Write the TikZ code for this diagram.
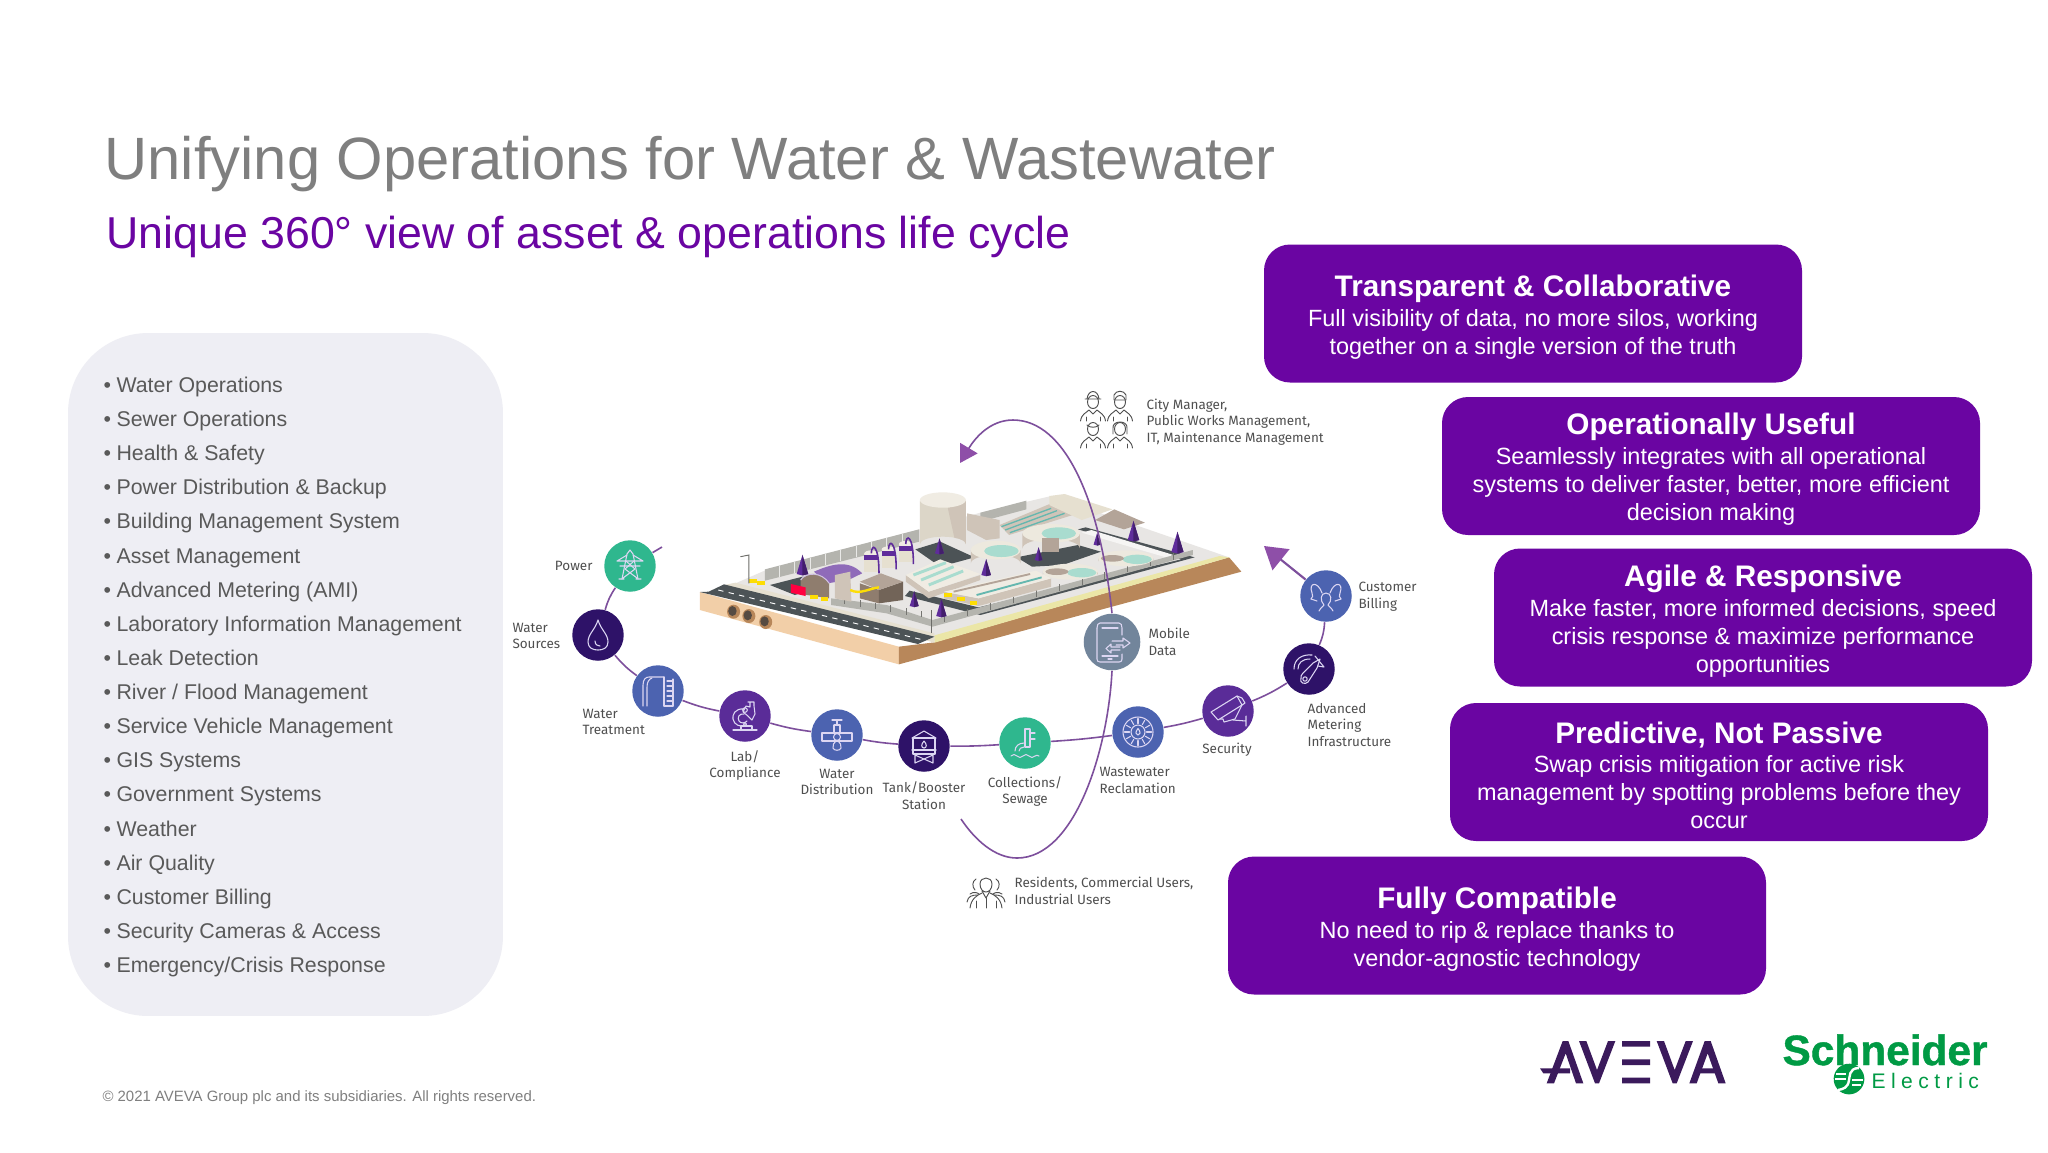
\documentclass[tikz,border=0pt]{standalone}
\usepackage{fontspec}
\setmainfont{Liberation Sans}
\newfontfamily\lblfont{Fira Sans}
\newfontfamily\elecfont[LetterSpace=26]{Liberation Sans}
\newfontfamily\sefont[FakeBold=1]{Liberation Sans Bold}
\usetikzlibrary{arrows.meta,shapes.geometric}
\definecolor{titlegray}{HTML}{7F7F7F}
\definecolor{brandpurple}{HTML}{6A05A2}
\definecolor{panelgray}{HTML}{EEEEF4}
\definecolor{listgray}{HTML}{595959}
\definecolor{lblgray}{HTML}{4F4F4F}
\definecolor{hubgreen}{HTML}{2FB78E}
\definecolor{hubdark}{HTML}{2E1268}
\definecolor{hubblue}{HTML}{4C63B0}
\definecolor{hubpurple}{HTML}{5A2C98}
\definecolor{hubslate}{HTML}{72859B}
\definecolor{chain}{HTML}{7D4F9C}
\definecolor{tipcol}{HTML}{8E4FA8}
\definecolor{iconpale}{HTML}{DCD6F2}
\definecolor{avevacol}{HTML}{3B1A5C}
\definecolor{segreen}{HTML}{009A44}
\definecolor{sand}{HTML}{F2CFA8}
\definecolor{soil}{HTML}{B8875A}
\definecolor{yard}{HTML}{E8E6E4}
\definecolor{asphalt}{HTML}{4C5356}
\definecolor{cream}{HTML}{E6E0D0}
\definecolor{stone}{HTML}{CFC4B8}
\definecolor{stonedk}{HTML}{B3A498}
\definecolor{pool}{HTML}{A9DCCF}
\definecolor{fence}{HTML}{B4B4AE}
\definecolor{brownb}{HTML}{8F7D6E}
\definecolor{cone}{HTML}{5F2C9B}
\tikzset{
  hub/.style={circle,fill=#1,minimum size=19.3pt,inner sep=0pt},
  lbl/.style={font=\lblfont\fontsize{5.05pt}{6.25pt}\selectfont,text=lblgray,inner sep=0pt,yshift=-0.15pt},
  lblL/.style={lbl,align=left,anchor=west},
  lblC/.style={lbl,align=center,anchor=center},
  card/.style={rounded corners=9.75pt,fill=brandpurple,minimum width=201.75pt,minimum height=51.75pt,inner sep=0pt,text=white,align=center,font=\fontsize{8.8pt}{10.5pt}\selectfont},
  link/.style={draw=chain,line width=0.6pt},
  iconl/.style={color=iconpale,line width=0.4pt,line cap=round,line join=round},
  outl/.style={color=lblgray,line width=0.35pt,line cap=round,line join=round},
  listitem/.style={anchor=base west,inner sep=0pt,text=listgray,font=\fontsize{8pt}{10pt}\selectfont},
}
\newcommand{\cardhead}[1]{{\bfseries\fontsize{11.15pt}{12pt}\selectfont\rule{0pt}{10.6pt}#1}\\[0.6pt]}
\newcommand{\coneat}[3]{\fill[cone] (#1-#3*0.42,#2) -- (#1,#2-#3*1.6) -- (#1+#3*0.42,#2) -- (#1,#2+#3*0.12) -- cycle;\fill[cone!70!black] (#1,#2-#3*1.6) -- (#1+#3*0.42,#2) -- (#1,#2+#3*0.12) -- cycle;}
\newcommand{\workerat}[2]{\begin{scope}[shift={(#1,#2)},outl]
  \draw (0,-6) ellipse (5.5 and 6.5);
  \draw (-12.5,13) .. controls (-11.5,6) and (-7,5) .. (-4,2) -- (0,6) -- (4,2) .. controls (7,5) and (11.5,6) .. (12.5,13);
  \draw (-7,13) -- (-7,9) (7,13) -- (7,9);
\end{scope}}
\begin{document}
\begin{tikzpicture}[x=0.375pt,y=-0.375pt]
\useasboundingbox (0,0) rectangle (2048,1152);
\fill[white] (0,0) rectangle (2048,1152);

% headings
\node[anchor=base west,inner sep=0pt,text=titlegray,font=\fontsize{22.4pt}{26pt}\selectfont] (title) at (104,179.5) {Unifying Operations for Water \& Wastewater};
\node[anchor=base west,inner sep=0pt,text=brandpurple,font=\fontsize{16.75pt}{20pt}\selectfont] (subtitle) at (106,248) {Unique 360° view of asset \& operations life cycle};

% list panel
\node[rounded corners=30pt,fill=panelgray,minimum width=163.1pt,minimum height=256.1pt,inner sep=0pt] (panel) at (285.5,674.5) {};
\foreach \t [count=\i from 0] in {Water Operations,Sewer Operations,Health \& Safety,Power Distribution \& Backup,Building Management System,Asset Management,Advanced Metering (AMI),Laboratory Information Management,Leak Detection,River / Flood Management,Service Vehicle Management,GIS Systems,Government Systems,Weather,Air Quality,Customer Billing,Security Cameras \& Access,Emergency/Crisis Response}{
  \node[listitem] (item\i) at (116,392.5+\i*34.12) {\t};
  \node[listitem] (bul\i) at (103,392.5+\i*34.12) {•};
}

% plant illustration (coordinates as in a stretched view of the region)
\begin{scope}[shift={(680,470)},x=0.1435pt,y=-0.125pt]
  \fill[yard] (145,340) -- (225,300) -- (620,180) -- (785,128) -- (970,78) -- (1435,262) -- (665,512) -- cycle;
  % fence rear
  \fill[fence] (222,298) -- (625,178) -- (625,215) -- (222,332) -- cycle;
  \fill[fence] (785,128) -- (905,92) -- (905,118) -- (785,155) -- cycle;
  \foreach \a in {260,300,340,380,420,460,500,540,580}{\draw[white!70!fence,line width=0.3pt] (\a,{298-(\a-222)*0.298}) -- ++(0,34);}
  % sides
  \fill[sand] (52,366) -- (572,530) -- (572,583) -- (52,420) -- cycle;
  \fill[soil] (572,530) -- (665,517) -- (1435,262) -- (1467,305) -- (572,583) -- cycle;
  \fill[cream!80!yellow] (665,496) -- (1410,258) -- (1435,262) -- (665,518) -- cycle;
  % road
  \fill[cream] (115,345) -- (145,338) -- (665,490) -- (665,518) -- cycle;
  \fill[asphalt] (52,366) -- (75,365) -- (115,343) -- (665,500) -- (622,522) -- cycle;
  \draw[white,line width=0.35pt,dash pattern=on 2pt off 2pt] (100,360) -- (640,511);
  % pipes
  \foreach \a/\b in {140/425,180/438,224/456}{\fill[soil] (\a,\b) ellipse (17 and 21);\fill[brownb!60!black] (\a-3,\b-2) ellipse (11 and 15);}
  % yard roads and dark ground
  \fill[asphalt] (615,238) -- (680,215) -- (770,262) -- (680,290) -- cycle;
  \fill[asphalt] (880,262) -- (1040,225) -- (1100,245) -- (1000,285) -- (920,290) -- cycle;
  \fill[asphalt] (1040,178) -- (1060,172) -- (1345,262) -- (785,435) -- (588,378) -- (600,362) -- (780,412) -- (1310,268) -- cycle;
  \fill[white!60!yard] (1050,188) -- (1075,180) -- (1290,255) -- (1270,262) -- cycle;
  % front fence
  \fill[fence] (395,385) -- (540,405) -- (660,450) -- (1340,240) -- (1340,255) -- (660,470) -- (540,430) -- (395,405) -- cycle;
  \foreach \a in {430,470,510,550,590,630,690,750,810,870,930,990,1050,1110,1170,1230,1290}{\draw[fence!65!black,line width=0.2pt] (\a,{\a<660?(395+(\a-395)*0.2):(465-(\a-660)*0.31)}) -- ++(0,-20);}
  % parking, sheds
  \fill[asphalt] (235,345) -- (320,320) -- (390,345) -- (300,375) -- cycle;
  % rear pool
  \fill[stone] (835,165) -- (970,100) -- (1040,130) -- (860,195) -- cycle;
  \draw[pool!60!teal,line width=0.5pt] (840,170) -- (970,115) (850,180) -- (985,122) (862,188) -- (1005,130);
  % rear block
  \fill[cream] (965,78) -- (1005,72) -- (1130,118) -- (1050,150) -- (965,105) -- cycle;
  \fill[stonedk] (1085,150) -- (1135,118) -- (1215,158) -- (1160,178) -- cycle;
  % big tank
  \fill[stone] (750,130) -- (835,150) -- (835,205) -- (800,210) -- (750,180) -- cycle;
  \fill[cream!90!gray] (627,92) -- (627,222) arc[start angle=180,end angle=360,x radius=60,y radius=22] -- (747,92) -- cycle;
  \fill[stone] (700,115) -- (747,92) -- (747,222) arc[start angle=360,end angle=300,x radius=60,y radius=22] -- cycle;
  \fill[cream!60!white] (687,90) ellipse (60 and 23);
  % towers
  \foreach \a/\b in {500/250,545/238,590/222}{
    \fill[cream] (\a-18,\b) rectangle (\a+18,\b+55);
    \fill[cream!60!white] (\a,\b) ellipse (18 and 9);
    \fill[cone] (\a-18,\b+5) rectangle (\a+18,\b+20);
    \draw[cone,line width=0.6pt] (\a,\b) .. controls (\a,\b-30) and (\a+20,\b-30) .. (\a+20,\b+60);
  }
  % front pool
  \fill[stone] (590,315) -- (650,365) -- (785,315) -- (785,330) -- (650,385) -- (590,335) -- cycle;
  \fill[cream!60!white] (590,315) -- (680,268) -- (785,312) -- (650,365) -- cycle;
  \draw[pool,line width=1.1pt] (610,315) -- (695,278) (630,330) -- (715,290) (650,345) -- (740,303);
  % right pool
  \fill[stone] (690,365) -- (780,385) -- (970,325) -- (970,350) -- (780,408) -- (690,385) -- cycle;
  \fill[cream!60!white] (690,365) -- (930,302) -- (970,325) -- (780,385) -- cycle;
  \draw[pool!60!teal,line width=0.7pt] (775,375) -- (945,322);
  \draw[stonedk,line width=0.7pt] (715,365) -- (915,312);
  % clarifiers
  \fill[stone] (760,240) -- (760,280) arc[start angle=180,end angle=360,x radius=65,y radius=25] -- (890,240) -- cycle;
  \fill[cream!70!white] (825,240) ellipse (65 and 28);
  \fill[pool] (840,243) ellipse (45 and 18);
  \fill[stone] (895,190) -- (895,235) arc[start angle=180,end angle=360,x radius=75,y radius=28] -- (1045,190) -- cycle;
  \fill[cream!70!white] (970,190) ellipse (75 and 28);
  \fill[pool] (990,190) ellipse (45 and 18);
  \fill[stonedk] (945,205) rectangle (990,245);
  \fill[stone] (948,305) -- (948,315) arc[start angle=180,end angle=360,x radius=72,y radius=24] -- (1092,305) -- cycle;
  \fill[cream!70!white] (1020,305) ellipse (72 and 24);
  \fill[pool] (1050,308) ellipse (38 and 14);
  \fill[stone] (1093,265) -- (1093,275) arc[start angle=180,end angle=360,x radius=72,y radius=24] -- (1237,265) -- cycle;
  \fill[cream!70!white] (1165,265) ellipse (72 and 24);
  \fill[pool] (1195,268) ellipse (38 and 14);
  \fill[stonedk] (985,305) ellipse (30 and 10);
  \fill[stonedk] (1130,265) ellipse (30 and 10);
  % arch building
  \fill[cone!70!white] (350,305) .. controls (390,285) and (440,265) .. (476,310) -- (440,330) -- (385,340) -- cycle;
  \fill[brownb] (315,372) -- (315,330) .. controls (330,305) and (370,305) .. (390,340) -- (390,385) -- cycle;
  \draw[cone!30!white,line width=0.4pt] (315,330) .. controls (330,305) and (370,305) .. (390,340);
  \fill[stone] (405,315) -- (445,305) -- (448,395) -- (405,385) -- cycle;
  % brown building
  \fill[brownb] (470,340) -- (520,360) -- (520,400) -- (470,385) -- cycle;
  \fill[brownb!80!black] (520,360) -- (583,335) -- (583,390) -- (520,400) -- cycle;
  \fill[stonedk] (470,335) -- (525,310) -- (583,335) -- (520,360) -- cycle;
  \draw[yellow!80!orange,line width=0.9pt] (445,360) .. controls (470,375) and (495,355) .. (520,352);
  % sign
  \fill[red!75!magenta] (290,342) -- (328,352) -- (328,378) -- (290,368) -- cycle;
  % yellow
  \foreach \a/\b in {190/333,212/340,350/380,378/388,700/375,735/388,767/398}{\fill[yellow!80!orange] (\a-10,\b-6) rectangle (\a+10,\b+6);}
  % poles
  \draw[fence!60!black,line width=0.35pt] (180,340) -- (180,255) -- (158,260);
  \draw[fence!60!black,line width=0.35pt] (658,490) -- (658,420);
  % cones
  \coneat{320}{312}{36}
  \coneat{678}{250}{28}
  \coneat{800}{315}{30}
  \coneat{612}{408}{28}
  \coneat{683}{438}{32}
  \coneat{937}{270}{24}
  \coneat{1090}{224}{22}
  \coneat{1185}{210}{36}
  \coneat{1300}{246}{38}
\end{scope}

% hubs
\node[hub=hubgreen] (power) at (630,566) {};
\node[hub=hubdark] (sources) at (598,635) {};
\node[hub=hubblue] (treat) at (658,691) {};
\node[hub=hubpurple] (lab) at (745,716) {};
\node[hub=hubblue] (dist) at (837,735) {};
\node[hub=hubdark] (tank) at (924,746) {};
\node[hub=hubgreen] (coll) at (1025,743) {};
\node[hub=hubblue] (reclaim) at (1138,732) {};
\node[hub=hubpurple] (secur) at (1228,711) {};
\node[hub=hubdark] (meter) at (1309,669) {};
\node[hub=hubblue] (billing) at (1326,596) {};
\node[hub=hubslate,minimum size=21.2pt] (mobile) at (1112,642) {};

% free ends
\coordinate (stub) at (662,547);
\coordinate (tipB) at (1264,546);
\coordinate (arcTop) at (1013,420);
\coordinate (tipA) at (960,463);
\coordinate (arcLow) at (1017,858);
\coordinate (arcEnd) at (961,819);

% connectors
\draw[link] (power) -- (stub);
\draw[link] (power) to[bend right=9] (sources);
\draw[link] (sources) to[bend right=7] (treat);
\draw[link] (treat) to[bend right=5] (lab);
\draw[link] (lab) to[bend right=4] (dist);
\draw[link] (dist) to[bend right=3] (tank);
\draw[link] (tank) to[bend right=2] (coll);
\draw[link] (coll) to[bend right=2] (reclaim);
\draw[link] (reclaim) to[bend right=3] (secur);
\draw[link] (secur) to[bend right=5] (meter);
\draw[link] (meter) to[bend right=10] (billing);
\draw[link,line width=0.8pt,-{Triangle[length=8.2pt,width=10pt,color=tipcol]}] (billing) -- (tipB);
\draw[link,-{Triangle[length=6.5pt,width=7.5pt,color=tipcol]}] (mobile.north) .. controls (1100,500) and (1065,420) .. (arcTop) .. controls (990,420) and (975,438) .. (tipA);
\draw[link] (mobile.south) .. controls (1108,750) and (1075,858) .. (arcLow) .. controls (995,858) and (975,840) .. (arcEnd);

% icons
\begin{scope}[shift={(power.center)},iconl]
  \draw (-3,-12) -- (-8,13) (3,-12) -- (8,13) (-3,-12) -- (0,-16) -- (3,-12);
  \draw (-13,-5) -- (-3,-11) (13,-5) -- (3,-11) (-13,-5) -- (13,-5) (-10,0) -- (10,0);
  \draw (-4,-5) -- (5,3) -- (-7,12) (4,-5) -- (-5,3) -- (7,12) (-11,13) -- (-6,13) (6,13) -- (11,13);
\end{scope}
\begin{scope}[shift={(sources.center)},iconl]
  \draw (0,-15) .. controls (-3,-5) and (-10,-1) .. (-10,7) .. controls (-10,13) and (-5,15) .. (0,15) .. controls (5,15) and (10,13) .. (10,7) .. controls (10,-1) and (3,-5) .. (0,-15) -- cycle;
  \draw (-3,6) .. controls (-3,10) and (0,11) .. (2,11);
\end{scope}
\begin{scope}[shift={(treat.center)},iconl]
  \draw (-15,15) -- (-15,-6) .. controls (-15,-12) and (-12,-14) .. (-9,-14) -- (6,-14);
  \draw (-11,15) -- (-11,-4) .. controls (-11,-9) and (-9,-12) .. (-6,-13);
  \draw (6,-14) -- (6,15) (15,-12) -- (15,15);
  \foreach \q in {-10,-5,0,5,10}{\draw (9,\q) -- (15,\q);}
  \draw (6,15) -- (15,15);
\end{scope}
\begin{scope}[shift={(lab.center)},iconl]
  \draw (-12,14) -- (12,14) (-4,14) -- (-4,10) -- (7,10) -- (7,14);
  \draw (-1,-7) .. controls (-10,-8) and (-13,-1) .. (-12,3) .. controls (-11,9) and (-5,11) .. (1,10);
  \draw (-1,-2) .. controls (-6,-3) and (-8,2) .. (-6,5) .. controls (-4,8) and (0,7) .. (2,5);
  \draw (3,-14) -- (9,-14) -- (9,-10) -- (10,-2) -- (7,4) -- (3,0) -- (-2,-4) -- (1,-10) -- (5,-9) -- (5,-14);
  \draw (0,-6) circle (2.3) (0,8) circle (1.5);
\end{scope}
\begin{scope}[shift={(dist.center)},iconl]
  \draw (-15,-2) rectangle (15,6);
  \draw (-5,-15) -- (5,-15) (0,-15) -- (0,-10) (-3,-10) -- (3,-10) -- (3,-2) (-3,-10) -- (-3,-2);
  \draw (0,2) circle (3.5);
  \draw (0,5) .. controls (-3,8) and (-5,10) .. (-4,13) .. controls (-3,16) and (3,16) .. (4,13) .. controls (5,10) and (3,8) .. (0,5);
\end{scope}
\begin{scope}[shift={(tank.center)},iconl]
  \draw (-12,-8) -- (0,-15) -- (12,-8) -- cycle;
  \draw (-11,-8) rectangle (11,8) (-12,4) -- (12,4);
  \draw (0,-5) .. controls (-3,-2) and (-3,2) .. (0,2) .. controls (3,2) and (3,-2) .. (0,-5);
  \draw (-9,8) -- (-9,17) (9,8) -- (9,17) (-9,9) -- (9,17) (9,9) -- (-9,17);
\end{scope}
\begin{scope}[shift={(coll.center)},iconl]
  \draw (0,4) -- (0,-14) -- (5,-14) -- (5,4) -- cycle (5,-10) -- (10,-10) (5,-4) -- (10,-4);
  \draw (-1,0) .. controls (-6,0) and (-10,3) .. (-10,8) (-1,4) .. controls (-4,4) and (-6,6) .. (-6,8);
  \draw (-14,13) .. controls (-12,11) and (-10,11) .. (-8,13) .. controls (-6,15) and (-4,15) .. (-2,13) .. controls (0,11) and (2,11) .. (4,13) .. controls (6,15) and (8,15) .. (10,13) .. controls (11,12) and (13,12) .. (14,13);
\end{scope}
\begin{scope}[shift={(reclaim.center)},iconl]
  \draw (0,0) circle (15) (0,0) circle (7);
  \foreach \q in {0,30,...,330}{\draw (\q:8.5) -- (\q:13.5);}
  \draw (0,-3.5) .. controls (-3,0) and (-2.5,3) .. (0,3) .. controls (2.5,3) and (3,0) .. (0,-3.5);
\end{scope}
\begin{scope}[shift={(secur.center)},iconl]
  \draw (-17,1) -- (9,-15) -- (14,-6) -- (-10,9) -- cycle;
  \draw (-8,8) -- (-5,8) -- (-4,11) -- (7,8) -- (14,-6);
  \draw (5,9) -- (18,10) (18,5) -- (18,15);
  \draw (9,-15) -- (14,-13) -- (17,-8) -- (14,-6);
\end{scope}
\begin{scope}[shift={(meter.center)},iconl]
  \draw (-15,0) .. controls (-15,-10) and (-7,-15) .. (3,-14);
  \draw (-11,0) .. controls (-11,-6) and (-7,-10) .. (1,-10);
  \draw (6,-13) -- (15,-2) -- (9,-3) ;
  \draw (-8,9) .. controls (-10,14) and (-4,16) .. (-1,13) -- (8,-1) -- (11,-10) -- (4,-6) -- (-6,4) .. controls (-8,6) and (-8,7) .. (-8,9);
  \draw (-4,10) circle (2.2);
\end{scope}
\begin{scope}[shift={(billing.center)},iconl]
  \draw (-7,15) .. controls (-5,11) and (-3,11) .. (-2,9) .. controls (-6,5) and (-6,-3) .. (0,-3) .. controls (6,-3) and (6,5) .. (2,9) .. controls (3,11) and (5,11) .. (7,15);
  \draw (-4,-3) .. controls (-8,-15) and (-18,-14) .. (-14,-3) .. controls (-13,0) and (-13,1) .. (-15,3);
  \draw (4,-3) .. controls (8,-15) and (18,-14) .. (14,-3) .. controls (13,0) and (13,1) .. (15,3);
  \draw (-15,3) -- (-9,5) (15,3) -- (9,5);
\end{scope}
\begin{scope}[shift={(mobile.center)},iconl]
  \draw (-15,-14) -- (-15,17) .. controls (-15,19) and (-14,20) .. (-12,20) -- (7,20) .. controls (9,20) and (10,19) .. (10,17) -- (10,12);
  \draw (10,-7) -- (10,-14) .. controls (10,-17) and (9,-19) .. (7,-19) -- (-12,-19) .. controls (-14,-19) and (-15,-17) .. (-15,-14);
  \draw (-10,-14) -- (6,-14) (-10,14) -- (6,14) (-4,17) -- (0,17);
  \draw (0,-1) -- (11,-1) -- (11,-4) -- (18,1) -- (11,6) -- (11,3) -- (4,3);
  \draw (8,5) -- (-1,5) -- (-1,2) -- (-6,6.5) -- (-1,11) -- (-1,8) -- (8,8);
\end{scope}
\workerat{1093}{408}
\workerat{1120}{408}
\workerat{1093}{435}
\workerat{1120}{435}
\begin{scope}[outl]
  \draw (1085,399) -- (1101,399) (1087,399) .. controls (1088,389) and (1098,389) .. (1099,399);
  \draw (1114,395) .. controls (1116,390) and (1124,390) .. (1126,395) -- (1126,400) -- (1114,400) -- cycle;
  \draw (1087,425) .. controls (1090,428) and (1096,428) .. (1099,425);
  \draw (1113,428) .. controls (1112,420) and (1128,420) .. (1127,428) -- (1127,434) (1113,428) -- (1113,434);
\end{scope}
\begin{scope}[shift={(986,892)},outl]
  \draw (-6,-8) .. controls (-6,-16) and (6,-16) .. (6,-8) .. controls (6,-3) and (3,0) .. (0,0) .. controls (-3,0) and (-6,-3) .. (-6,-8);
  \draw (-10,-13) .. controls (-14,-11) and (-14,-5) .. (-11,-2) (10,-13) .. controls (14,-11) and (14,-5) .. (11,-2);
  \draw (-4,-1) -- (0,6) -- (4,-1) (-16,2) .. controls (-12,-1) and (-8,1) .. (-7,2);
  \draw (16,2) .. controls (12,-1) and (8,1) .. (7,2);
  \draw (-19,10) .. controls (-18,4) and (-14,3) .. (-8,3) (19,10) .. controls (18,4) and (14,3) .. (8,3);
  \draw (-16,16) .. controls (-15,7) and (-9,3) .. (-4,1) (16,16) .. controls (15,7) and (9,3) .. (4,1);
  \draw (-10,16) -- (-10,9) (10,16) -- (10,9) (0,6) -- (0,16);
\end{scope}

% labels
\node[lbl,align=right,anchor=east] (lpower) at (593,566) {Power};
\node[lblL] (lsources) at (512,635.5) {Water\\Sources};
\node[lblL] (ltreat) at (582,721.5) {Water\\Treatment};
\node[lblC] (llab) at (745,765) {Lab/\\Compliance};
\node[lblC] (ldist) at (837,781.5) {Water\\Distribution};
\node[lblC] (ltank) at (924,795) {Tank/Booster\\Station};
\node[lblC] (lcoll) at (1025,791) {Collections/\\Sewage};
\node[lblL] (lreclaim) at (1099,780) {Wastewater\\Reclamation};
\node[lblC] (lsecur) at (1227,749) {Security};
\node[lblL] (lmeter) at (1307,724.5) {Advanced\\Metering\\Infrastructure};
\node[lblL] (lbilling) at (1358,596.5) {Customer\\Billing};
\node[lblL] (lmobile) at (1148,641.5) {Mobile\\Data};
\node[lblL] (lcity) at (1146,421.5) {City Manager,\\Public Works Management,\\IT, Maintenance Management};
\node[lblL] (lresid) at (1014,890.5) {Residents, Commercial Users,\\Industrial Users};

% cards
\node[card] (c1) at (1533,313.5) {\cardhead{Transparent \& Collaborative}Full visibility of data, no more silos, working\\together on a single version of the truth};
\node[card] (c2) at (1711,466) {\cardhead{Operationally Useful}Seamlessly integrates with all operational\\systems to deliver faster, better, more efficient\\decision making};
\node[card] (c3) at (1763,617.5) {\cardhead{Agile \& Responsive}Make faster, more informed decisions, speed\\crisis response \& maximize performance\\opportunities};
\node[card] (c4) at (1719,772) {\cardhead{Predictive, Not Passive}Swap crisis mitigation for active risk\\management by spotting problems before they\\occur};
\node[card] (c5) at (1497,925.5) {\cardhead{Fully Compatible}No need to rip \& replace thanks to\\vendor-agnostic technology};

% footer
\node[anchor=west,inner sep=0pt,text=titlegray,font=\fontsize{5.6pt}{7pt}\selectfont] (foot) at (102,1098) {© 2021 AVEVA Group plc and its subsidiaries. All rights reserved.};

% AVEVA logo
\begin{scope}[shift={(1500,1010)},x=0.125pt,y=-0.125pt]
  \fill[avevacol] (140,220) -- (188,93) -- (205,93) -- (250,220) -- (228,220) -- (197,130) -- (162,220) -- cycle;
  \fill[avevacol] (120,175) -- (210,175) -- (210,190) -- (130,190) -- cycle;
  \fill[avevacol] (237,93) -- (259,93) -- (291,180) -- (324,93) -- (346,93) -- (297,220) -- (285,220) -- cycle;
  \fill[avevacol] (366,93) rectangle (450,110) (366,148) rectangle (450,165) (366,203) rectangle (450,220);
  \fill[avevacol] (470,93) -- (492,93) -- (524,180) -- (557,93) -- (579,93) -- (530,220) -- (518,220) -- cycle;
  \fill[avevacol] (568,220) -- (614,93) -- (632,93) -- (677,220) -- (655,220) -- (623,130) -- (590,220) -- cycle;
  \fill[avevacol] (600,175) -- (645,175) -- (650,190) -- (595,190) -- cycle;
\end{scope}

% Schneider Electric logo
\node[anchor=base west,inner sep=0pt,text=segreen,font=\sefont\fontsize{15.9pt}{18pt}\selectfont] (seword) at (1782,1065) {Schneider};
\node[anchor=base west,inner sep=0pt,text=segreen,font=\elecfont\fontsize{7.9pt}{9pt}\selectfont] (seelec) at (1871,1088) {Electric};
\node[ellipse,fill=segreen,minimum width=11.5pt,minimum height=11.5pt,inner sep=0pt,rotate=-15] (semark) at (1849,1079) {};
\draw[white,line width=0.9pt] (1859,1068) .. controls (1848,1068) and (1850,1078) .. (1849,1080) .. controls (1848,1088) and (1843,1089) .. (1838,1090);
\draw[white,line width=0.5pt] (1836,1074) -- (1846,1074) (1835,1079) -- (1846,1079) (1852,1080) -- (1863,1080) (1852,1085) -- (1861,1085);
\end{tikzpicture}
\end{document}
